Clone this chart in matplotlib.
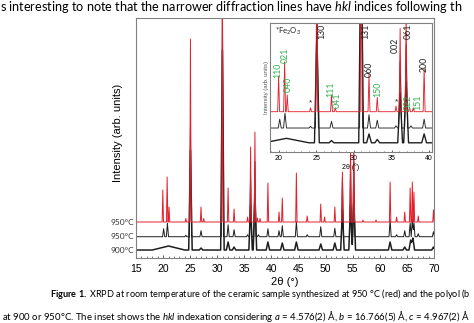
import numpy as np
import matplotlib
matplotlib.use('Agg')
import matplotlib.pyplot as plt
from matplotlib.ticker import MultipleLocator

plt.rcParams['font.family'] = ['Liberation Sans', 'DejaVu Sans']
plt.rcParams['mathtext.fontset'] = 'custom'
plt.rcParams['mathtext.rm'] = 'Lato'
plt.rcParams['mathtext.it'] = 'Lato:italic'
plt.rcParams['mathtext.bf'] = 'Lato:bold'

# --- peak lists (2theta in degrees, intensity in arb. units) ---
# ceramic sample, 950 C
red_pos = [19.95, 20.75, 21.1, 24.2, 25.05, 27.0, 27.5, 30.95, 32.0, 33.1, 35.6,
           36.15, 36.95, 37.4, 37.9, 39.35, 41.4, 42.0, 44.6, 46.6, 49.1, 49.8,
           51.7, 53.1, 54.6, 55.2, 56.9, 59.3, 61.9, 63.1, 64.6, 65.6, 66.0, 66.3,
           67.1, 69.9]
red_int = [32, 45, 15, 3.5, 183, 15, 3.5, 260, 34, 13, 5,
           75, 90, 4, 3.5, 39, 10, 24, 49, 6, 18, 5,
           15, 50, 77, 83, 2, 2, 40, 5, 10, 34, 40, 30,
           6, 12]

# polyol sample, 950 C
p950_pos = [20.1, 20.8, 24.2, 25.05, 27.0, 30.95, 32.0, 33.1, 35.6, 36.15, 36.95,
            37.6, 39.35, 41.4, 42.0, 44.6, 46.6, 49.1, 51.7, 53.1, 54.6, 55.2,
            61.9, 63.1, 64.6, 65.6, 66.0, 66.3, 67.1, 69.9]
p950_int = [8, 13.5, 1.5, 110, 6, 230, 12, 7, 2, 60, 75,
            2, 8, 6, 11, 15, 2, 10, 8.5, 60, 70, 75,
            17, 2, 6, 14, 18, 14, 3, 5]

# polyol sample, 900 C (broad lines + amorphous hump)
p900_pos = [25.05, 27.0, 30.95, 32.0, 33.1, 36.15, 36.95, 39.35, 42.0, 44.6,
            49.1, 51.7, 53.1, 54.6, 55.2, 61.9, 64.6, 65.7, 66.1, 69.9]
p900_int = [100, 2, 200, 8, 3, 45, 55, 8, 7, 8,
            6, 7, 40, 45, 50, 8, 3, 10, 12, 3]
hump_pos = [21.0]
hump_int = [4]

samples = ['950°C', '950°C', '900°C']
offsets = [36, 21.3, 8]

# inset indexation
hkl = ['110', '021', '040', '130', '111', '041', '131', '060', '150', '002',
       '061', '022', '151', '200']
hkl_x = [19.85, 20.8, 21.3, 25.75, 26.95, 27.8, 31.55, 32.05, 33.15, 35.55,
         37.25, 37.25, 38.45, 39.35]
hkl_y = [66.4, 79.9, 53.7, 115.5, 49.2, 39.3, 115.5, 67.3, 49.2, 88.9,
         115.5, 37.5, 37.5, 72]
hkl_green = [True, True, True, False, True, True, False, False, True, False,
             False, True, True, False]
fe2o3_pos = [24.2, 35.6]

RED = '#e3202b'
BLACK = '#1e1e1e'
GREEN = '#2fb24f'
SPINE = '#808080'


def pattern(pos, inten, hw, extra=()):
    pos = np.asarray(pos, float)
    verts = [np.array([15.0, 70.0]), pos - hw, pos, pos + hw]
    for p, h, w in extra:
        verts += [np.array([p - w, p, p + w])]
    x = np.unique(np.concatenate(verts))
    y = np.zeros_like(x)
    for p, h in zip(pos, inten):
        y += np.interp(x, [p - hw, p, p + hw], [0, h, 0])
    for p, h, w in extra:
        y += np.interp(x, [p - w, p, p + w], [0, h, 0])
    return x, y


xr, yr = pattern(red_pos, red_int, 0.13)
x1, y1 = pattern(p950_pos, p950_int, 0.2)
x0, y0 = pattern(p900_pos, p900_int, 0.32,
                 extra=[(p, h, 3.0) for p, h in zip(hump_pos, hump_int)])

traces = [(xr, yr + offsets[0], RED, 0.7),
          (x1, y1 + offsets[1], BLACK, 0.7),
          (x0, y0 + offsets[2], BLACK, 1.1)]


def style_axes(ax, size, major_len, minor_len, pad):
    for s in ax.spines.values():
        s.set_color(SPINE)
        s.set_linewidth(0.8)
    ax.xaxis.set_major_locator(MultipleLocator(5))
    ax.xaxis.set_minor_locator(MultipleLocator(1))
    ax.tick_params(axis='x', which='major', direction='in', length=major_len,
                   width=0.6, color='#444444', labelsize=size, pad=pad)
    ax.tick_params(axis='x', which='minor', direction='in', length=minor_len,
                   width=0.5, color='#444444')
    ax.tick_params(axis='y', left=False, labelleft=False)


fig = plt.figure(figsize=(4.74, 3.23), dpi=100)

# main pattern
ax = fig.add_axes([0.2869, 0.2012, 0.6287, 0.743])
for x, y, c, lw in reversed(traces):
    ax.plot(x, y, color=c, lw=lw)
ax.set_xlim(15, 70)
ax.set_ylim(0, 240)
style_axes(ax, 7.5, 2.4, 1.5, 4)
ax.set_xlabel('2θ (°)', fontsize=8, labelpad=2.5)
ax.set_ylabel('Intensity (arb. units)', fontsize=8)
ax.yaxis.set_label_coords(-0.044, 0.52)
for name, off in zip(samples, offsets):
    ax.text(14.6, off, name, ha='right', va='center', fontsize=6,
            family='Lato', color='#333333', clip_on=False)

# inset: low-angle region with indexation
ins = fig.add_axes([0.5696, 0.5294, 0.3418, 0.3994])
ins.set_facecolor('white')
for x, y, c, lw in reversed(traces):
    ins.plot(x, y, color=c, lw=lw * 0.9)
ins.set_xlim(18.8, 40.4)
ins.set_ylim(-0.3, 115.9)
style_axes(ins, 5, 1.8, 1.0, 2)
ins.set_xlabel('2θ (°)', fontsize=5, labelpad=1)
ins.set_ylabel('Intensity (arb. units)', fontsize=4.3, color='#555555', labelpad=1)

for lab, lx, ly, g in zip(hkl, hkl_x, hkl_y, hkl_green):
    ins.text(lx, ly, lab, rotation=90, ha='center',
             va='bottom' if ly < 110 else 'top', fontsize=6.3, family='Lato',
             color=GREEN if g else BLACK)

for p in fe2o3_pos:
    yp = offsets[0] + np.interp(p, xr, yr)
    ins.text(p, yp + 1, '*', ha='center', va='bottom', fontsize=6, color=BLACK)

ins.text(0.03, 0.975, '*Fe$_2$O$_3$', transform=ins.transAxes, ha='left',
         va='top', fontsize=5.5, family='Lato', color=BLACK)

# surrounding page text
fig.text(0.0, 0.965, 's interesting to note that the narrower diffraction lines have '
         '$\\mathit{hkl}$ indices following th', fontsize=9.1, family='Lato',
         va='baseline')
fig.text(50 / 474, 0.0805, '$\\mathbf{Figure\\ 1.}$ XRPD at room temperature of the '
         'ceramic sample synthesized at 950 °C (red) and the polyol (b',
         fontsize=6.55, family='Lato', va='baseline')
fig.text(0.004, 0.009, 'at 900 or 950°C. The inset shows the $\\mathit{hkl}$ indexation '
         'considering $\\mathit{a}$ = 4.576(2) Å, $\\mathit{b}$ = 16.766(5) Å, '
         '$\\mathit{c}$ = 4.967(2) Å', fontsize=6.9, family='Lato', va='baseline')

fig.savefig('out.png', dpi=100)
